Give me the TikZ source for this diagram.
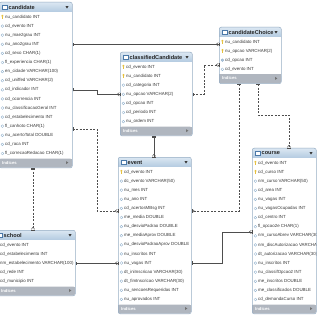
\documentclass[tikz,border=0pt]{standalone}
\usepackage{fontspec}
\setmainfont{Liberation Sans}
\usetikzlibrary{arrows.meta}
\definecolor{hdrtop}{HTML}{DCE8F3}
\definecolor{hdrbot}{HTML}{A6C1DA}
\definecolor{framecol}{HTML}{98AEC4}
\definecolor{footgray}{HTML}{B0B6BF}
\definecolor{rowtxt}{HTML}{3A3A3A}
\definecolor{linecol}{HTML}{4E4E4E}
\definecolor{keycol}{HTML}{E6C03C}
\definecolor{diacol}{HTML}{8CAECB}
\definecolor{iconblue}{HTML}{4A78A8}
\newcommand\ericon[1]{%
  \if k#1\relax
    \fill[keycol] (-0.55,-0.4) rectangle (0.55,2.2);
    \fill[keycol] (0,-1.1) circle (1.15);
  \else\if d#1\relax
    \filldraw[draw=diacol, fill=diacol!70, line width=0.3pt] (0,-1.4) -- (1.4,0) -- (0,1.4) -- (-1.4,0) -- cycle;
  \else
    \filldraw[draw=diacol, fill=white, line width=0.3pt] (0,-1.4) -- (1.4,0) -- (0,1.4) -- (-1.4,0) -- cycle;
  \fi\fi}
% #1 name, #2 left, #3 top, #4 right, #5 title, #6 number of rows, #7 rows
\newcommand\ertable[7]{%
  \pgfmathsetmacro\erF{#3+15+#6*9.1}%
  \pgfmathsetmacro\erB{\erF+5}%
  \pgfmathsetmacro\erH{#3+10}%
  \pgfmathsetmacro\erW{#4-(#2)}%
  \pgfmathsetmacro\erHt{\erB-(#3)}%
  \pgfmathsetmacro\erFx{max(#2+3,1)}%
  \shade[top color=hdrtop, bottom color=hdrbot, rounded corners=2pt] (#2,#3) rectangle (#4,\erH+3);
  \fill[white] (#2,\erH) rectangle (#4,\erF-4);
  \fill[footgray, rounded corners=2pt] (#2,\erF-4) rectangle (#4,\erB);
  \fill[footgray] (#2,\erF-4) rectangle (#4,\erF);
  \filldraw[draw=iconblue, fill=white, line width=0.4pt] (#2+3,#3+2.8) rectangle (#2+8,#3+7.6);
  \fill[iconblue] (#2+3,#3+2.8) rectangle (#2+8,#3+4);
  \node[titletext, anchor=west] (#1-title) at (#2+9.5,#3+5.4) {#5};
  \fill[rowtxt] (#4-6.5,#3+4.2) -- (#4-3.5,#3+4.2) -- (#4-5,#3+6.6) -- cycle;
  \node[foottext, anchor=west] (#1-idx) at (\erFx,\erF) {Indices};
  \fill[black!55] (#4-6,\erF-1.5) -- (#4-6,\erF+1.5) -- (#4-3.6,\erF) -- cycle;
  \begin{scope}
    \clip (#2,#3) rectangle (#4,\erB);
    \foreach[count=\i] \tp/\tx in {#7}{%
      \pgfmathsetmacro\ry{#3+15+(\i-1)*9.1}%
      \begin{scope}[shift={(#2+3.4,\ry)}]\ericon{\tp}\end{scope}
      \node[rowtext, anchor=west] (#1-\i) at (#2+6,\ry) {\tx};
    }
  \end{scope}
  \node[draw=framecol, line width=0.5pt, rounded corners=2pt, inner sep=0pt,
        minimum width=\erW pt, minimum height=\erHt pt, anchor=north west] (#1) at (#2,#3) {};
}
\begin{document}
\begin{tikzpicture}[x=1pt, y=-1pt,
  rowtext/.style={inner sep=0pt, text=rowtxt, font=\fontsize{4.4}{5}\selectfont},
  titletext/.style={inner sep=0pt, text=black!85, font=\fontsize{5.6}{6}\selectfont\bfseries},
  foottext/.style={inner sep=0pt, text=white, font=\fontsize{4.2}{5}\selectfont\bfseries},
  rel/.style={draw=linecol, line width=0.45pt,
    arrows={Bar[width=3.2pt] Bar[width=3.2pt]-Straight Barb[reversed,width=3.4pt,length=2.2pt] Bar[width=3.2pt]}},
  idrel/.style={rel},
  nrel/.style={rel, dash pattern=on 2pt off 1.4pt}]
\useasboundingbox (0,0) rectangle (320,320);
\clip (0,0) rectangle (320,320);
\fill[white] (0,0) rectangle (320,320);

\ertable{cand}{-1}{2}{72}{candidate}{16}{k/nu\_candidato INT, o/cd\_evento INT, o/nu\_mae2grau INT, o/nu\_ano2grau INT, o/cd\_sexo CHAR(1), o/fl\_experiencia CHAR(1), o/en\_cidade VARCHAR(100), o/cd\_uniffed VARCHAR(2), o/cd\_indicador INT, o/cd\_ocorrencia INT, o/nu\_classificacaoGeral INT, o/cd\_estabelecimento INT, o/fl\_canhoto CHAR(1), o/nu\_acertoTotal DOUBLE, o/cd\_raca INT, o/fl\_correcaoRedacao CHAR(1)}

\ertable{clc}{120}{52}{192}{classifiedCandidate}{7}{k/cd\_evento INT, k/nu\_candidato INT, o/cd\_categoria INT, o/nu\_opcao VARCHAR(2), o/cd\_opcao INT, o/cd\_periodo INT, o/nu\_ordem INT}

\ertable{cch}{219}{27}{281}{candidateChoice}{4}{k/nu\_candidato INT, k/nu\_opcao VARCHAR(2), d/cd\_opcao INT, o/cd\_evento INT}

\ertable{ev}{118}{157}{191}{event}{15}{k/cd\_evento INT, o/dc\_evento VARCHAR(50), o/nu\_mes INT, o/nu\_ano INT, o/cd\_acertosMBsg INT, o/me\_media DOUBLE, o/nu\_desvioPadrao DOUBLE, o/me\_mediaAprov DOUBLE, o/nu\_desvioPadraoAprov DOUBLE, o/nu\_inscritos INT, o/nu\_vagas INT, o/dt\_iniInscricao VARCHAR(30), o/dt\_fimInscricao VARCHAR(30), o/nu\_sencoesRequeridas INT, o/nu\_aprovados INT}

\ertable{sch}{-6}{230}{75}{school}{5}{k/cd\_evento INT, k/cd\_estabelecimento INT, o/nm\_estabelecimento VARCHAR(100), o/cd\_rede INT, o/cd\_municipio INT}

\ertable{crs}{252}{148}{316}{course}{16}{k/cd\_evento INT, k/cd\_curso INT, o/nm\_curso VARCHAR(50), o/cd\_area INT, o/nu\_vagas INT, o/nu\_vagasOcupadas INT, o/cd\_centro INT, o/fl\_opcao2e CHAR(1), o/nm\_cursoAbrev VARCHAR(30), o/nm\_discAutorizacao VARCHAR(100), o/dt\_autorizacao VARCHAR(30), o/nu\_inscritos INT, o/nu\_classifOpcao2 INT, o/me\_inscritos DOUBLE, o/me\_classificados DOUBLE, o/cd\_demandaCurso INT}

% bend coordinates
\coordinate (bendA) at (97,0);
\coordinate (colA) at (33,0);
\coordinate (colB) at (154,0);
\coordinate (colC) at (204,0);
\coordinate (colD) at (239,0);
\coordinate (colE) at (258,0);
\coordinate (colF) at (289,0);
\coordinate (colG) at (222,0);
\coordinate (yC) at (0,129);
\coordinate (yD) at (0,211);
\coordinate (yE) at (0,65);
\coordinate (yF) at (0,115);
\coordinate (yG) at (0,232);

% connectors
\draw[idrel] (cand.east |- cand-4) -- (cand-4 -| cch.west);
\draw[idrel] (cand.east |- cand-9) -- (bendA |- cand-9) -- (bendA |- clc-4) -- (clc.west |- clc-4);
\draw[nrel] (cand.east |- yC) -- (bendA |- yC) -- (bendA |- yD) -- (ev.west |- yD);
\draw[nrel] (cand.south -| colA) -- (sch.north -| colA);
\draw[idrel] (sch.east |- sch-3) -- (sch-3 -| ev.west);
\draw[idrel] (clc.south -| colB) -- (ev.north -| colB);
\draw[nrel] (clc.east |- clc-4) -- (colC |- clc-4) -- (colC |- yE) -- (cch.west |- yE);
\draw[nrel] (cch.south -| colD) -- (colD |- yD) -- (ev.east |- yD);
\draw[nrel] (cch.south -| colE) -- (colE |- yF) -- (colF |- yF) -- (crs.north -| colF);
\draw[idrel] (ev.east |- ev-11) -- (colG |- ev-11) -- (colG |- yG) -- (crs.west |- yG);
\end{tikzpicture}
\end{document}
